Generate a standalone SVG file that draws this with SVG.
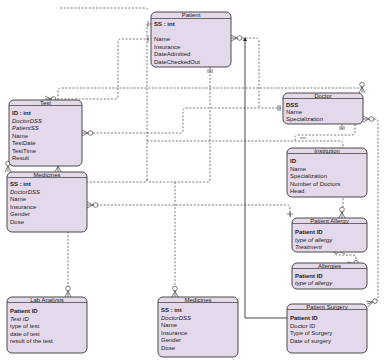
<svg xmlns="http://www.w3.org/2000/svg" width="388" height="360" viewBox="0 0 388 360">
<style>
.box{fill:#e4d9ea;stroke:#4a4a4a;stroke-width:1}
.hd{stroke:#4a4a4a;stroke-width:0.8}
.t{font-family:"Liberation Sans",Arial,sans-serif;font-size:6px;fill:#222}
.ti{font-family:"Liberation Sans",Arial,sans-serif;font-size:6px;fill:#222;text-anchor:middle}
.b{font-weight:bold}
.i{font-style:italic}
.d{fill:none;stroke:#555;stroke-width:0.8;stroke-dasharray:2 1.6}
.s{fill:none;stroke:#333;stroke-width:0.9}
.mk{fill:none;stroke:#444;stroke-width:0.7}
.mc{fill:#fff;stroke:#444;stroke-width:0.7}
</style>
<defs>
<g id="m0"><path class="mk" d="M0,-3 L6,0 M0,3 L6,0 M0,0 L6,0"/><circle class="mc" cx="8.5" cy="0" r="2.3"/></g>
<g id="one"><path class="mk" d="M3,-3 V3 M5,-3 V3"/></g>
<g id="one1"><path class="mk" d="M3,-3 V3"/></g>
</defs>

<g id="connectors">
<!-- Doctor top to Medicines top -->
<path class="d" d="M58,161 V91 Q58,88 61,88 H359 Q362,88 362,85"/>
<!-- Test top to Patient -->
<path class="d" d="M57,99 H115 Q118,99 118,96 V42 Q118,39 121,39 H151"/>
<!-- top line -->
<path class="d" d="M60,8 H145 Q148,8 148,11"/>
<!-- Test DoctorDSS to Doctor -->
<path class="d" d="M93,133 H180 Q183,133 183,130 V111 Q183,108 186,108 H283"/>
<!-- Patient right to Doctor -->
<path class="d" d="M242,38 H256 Q259,38 259,41 V108"/>
<!-- Patient SS to Lab Analysis -->
<path class="d" d="M151,24 H147 V179 Q147,182 144,182 H71 Q68,182 68,185 V286"/>
<!-- Patient bottom to Medicines bottom -->
<path class="d" d="M210,67 V179 Q210,182 207,182 H150 Q147,182 147,179"/>
<path class="d" d="M175,182 V286"/>
<!-- Medicines right to Patient Allergy -->
<path class="d" d="M93,205 H287 Q290,205 290,208 V218"/>
<!-- Patient to Patient Allergy -->
<path class="d" d="M147,141 H340 Q343,141 343,144 V207"/>
<!-- Doctor bottom -->
<path class="d" d="M355,124 V132 Q355,135 352,135 H298 Q295,135 295,138 V141"/>
<path class="d" d="M342,124 V129"/>
<!-- Doctor right to Patient Surgery -->
<path class="d" d="M374,119 H375 Q378,119 378,122 V296 Q378,300 375,302"/>
<!-- Patient Allergy to Allergies -->
<path class="d" d="M334,251 Q334,255 337,255 H353 Q356,255 356,258 V262"/>
<!-- solid Patient Surgery to Patient -->
<path class="s" d="M287,318 H245 V40"/>
<path d="M245,37 L243,41 L247,41 Z" fill="#222"/>

<!-- markers -->
<use href="#m0" transform="translate(362,93) rotate(-90)"/>
<use href="#m0" transform="translate(58,172) rotate(-90)"/>
<use href="#m0" transform="translate(8,172) rotate(-90)"/>
<use href="#m0" transform="translate(45,99)"/>
<use href="#one1" transform="translate(151,39) rotate(180)"/>
<use href="#m0" transform="translate(82,133)"/>
<use href="#one" transform="translate(283,108) rotate(180)"/>
<use href="#m0" transform="translate(231,38)"/>
<use href="#one1" transform="translate(151,24) rotate(180)"/>
<use href="#m0" transform="translate(68,297) rotate(-90)"/>
<use href="#one" transform="translate(210,67) rotate(90)"/>
<use href="#m0" transform="translate(175,297) rotate(-90)"/>
<use href="#m0" transform="translate(87,205)"/>
<path class="mk" d="M287,214 H293 M290,211 V217"/>
<use href="#m0" transform="translate(342,218) rotate(-90)"/>
<use href="#one" transform="translate(342,124) rotate(90)"/>
<use href="#one1" transform="translate(303,141) rotate(-90)"/>
<use href="#m0" transform="translate(363,119)"/>
<use href="#m0" transform="translate(367,304) rotate(-20)"/>
<use href="#m0" transform="translate(345,251) rotate(180)"/>
<use href="#m0" transform="translate(348,265) rotate(-15)"/>
</g>

<g id="patient">
<rect class="box" x="151" y="12" width="80" height="55" rx="5"/>
<line class="hd" x1="151" y1="18.5" x2="231" y2="18.5"/>
<text class="ti" x="191" y="17">Patient</text>
<text class="t b" x="154" y="26">SS : int</text>
<text class="t" x="154" y="41">Name</text>
<text class="t" x="154" y="48.5">Insurance</text>
<text class="t" x="154" y="56">DateAdmitted</text>
<text class="t" x="154" y="63.5">DateCheckedOut</text>
</g>

<g id="test">
<rect class="box" x="9" y="100" width="73" height="66" rx="5"/>
<line class="hd" x1="9" y1="105.5" x2="82" y2="105.5"/>
<text class="ti" x="45.5" y="104.5">Test</text>
<text class="t b" x="12" y="115">ID : int</text>
<text class="t i" x="12" y="122.5">DoctorDSS</text>
<text class="t i" x="12" y="130">PatientSS</text>
<text class="t" x="12" y="137.5">Name</text>
<text class="t" x="12" y="145">TestDate</text>
<text class="t" x="12" y="152.5">TestTime</text>
<text class="t" x="12" y="160">Result</text>
</g>

<g id="doctor">
<rect class="box" x="283" y="93" width="80" height="31" rx="5"/>
<line class="hd" x1="283" y1="98.5" x2="363" y2="98.5"/>
<text class="ti" x="323" y="97.5">Doctor</text>
<text class="t b" x="286" y="107">DSS</text>
<text class="t" x="286" y="114">Name</text>
<text class="t" x="286" y="121">Specialization</text>
</g>

<g id="institution">
<rect class="box" x="287" y="148" width="80" height="49" rx="5"/>
<line class="hd" x1="287" y1="153.5" x2="367" y2="153.5"/>
<text class="ti" x="327" y="152.5">Institution</text>
<text class="t b" x="290" y="163">ID</text>
<text class="t" x="290" y="170.5">Name</text>
<text class="t" x="290" y="178">Specialization</text>
<text class="t" x="290" y="185.5">Number of Doctors</text>
<text class="t" x="290" y="193">Head</text>
</g>

<g id="medicines1">
<rect class="box" x="7" y="172" width="80" height="60" rx="5"/>
<line class="hd" x1="7" y1="177.5" x2="87" y2="177.5"/>
<text class="ti" x="47" y="176.5">Medicines</text>
<text class="t b" x="10" y="186">SS : int</text>
<text class="t i" x="10" y="193.5">DoctorDSS</text>
<text class="t" x="10" y="201">Name</text>
<text class="t" x="10" y="208.5">Insurance</text>
<text class="t" x="10" y="216">Gender</text>
<text class="t" x="10" y="223.5">Dose</text>
</g>

<g id="patientallergy">
<rect class="box" x="292" y="218" width="75" height="34" rx="5"/>
<line class="hd" x1="292" y1="223.5" x2="367" y2="223.5"/>
<text class="ti" x="329.5" y="222.5">Patient Allergy</text>
<text class="t b" x="295" y="234">Patient ID</text>
<text class="t i" x="295" y="241.5">type of allergy</text>
<text class="t i" x="295" y="249">Treatment</text>
</g>

<g id="allergies">
<rect class="box" x="292" y="263" width="75" height="26" rx="5"/>
<line class="hd" x1="292" y1="268.5" x2="367" y2="268.5"/>
<text class="ti" x="329.5" y="267.5">Allergies</text>
<text class="t b" x="295" y="278">Patient ID</text>
<text class="t i" x="295" y="285">type of allergy</text>
</g>

<g id="patientsurgery">
<rect class="box" x="287" y="304" width="80" height="49" rx="5"/>
<line class="hd" x1="287" y1="309.5" x2="367" y2="309.5"/>
<text class="ti" x="327" y="308.5">Patient Surgery</text>
<text class="t b" x="290" y="320">Patient ID</text>
<text class="t" x="290" y="327.5">Doctor ID</text>
<text class="t" x="290" y="335">Type of Surgery</text>
<text class="t" x="290" y="342.5">Date of surgery</text>
</g>

<g id="labanalysis">
<rect class="box" x="7" y="297" width="80" height="56" rx="5"/>
<line class="hd" x1="7" y1="302.5" x2="87" y2="302.5"/>
<text class="ti" x="47" y="301.5">Lab Analysis</text>
<text class="t b" x="10" y="313">Patient ID</text>
<text class="t i" x="10" y="320.5">Test ID</text>
<text class="t" x="10" y="328">type of test</text>
<text class="t" x="10" y="335.5">date of test</text>
<text class="t" x="10" y="343">result of the test</text>
</g>

<g id="medicines2">
<rect class="box" x="158" y="297" width="80" height="60" rx="5"/>
<line class="hd" x1="158" y1="302.5" x2="238" y2="302.5"/>
<text class="ti" x="198" y="301.5">Medicines</text>
<text class="t b" x="161" y="312">SS : int</text>
<text class="t i" x="161" y="319.5">DoctorDSS</text>
<text class="t" x="161" y="327">Name</text>
<text class="t" x="161" y="334.5">Insurance</text>
<text class="t" x="161" y="342">Gender</text>
<text class="t" x="161" y="349.5">Dose</text>
</g>
</svg>
